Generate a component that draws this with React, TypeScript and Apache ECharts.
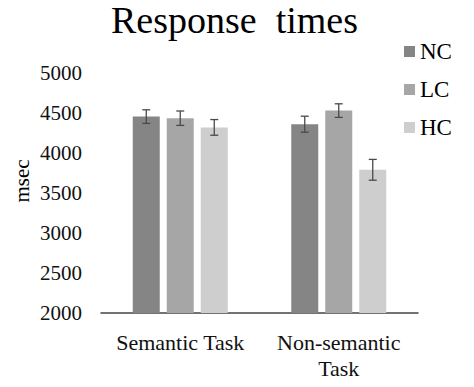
import React, { useEffect, useRef } from "react";
import * as echarts from "echarts";

const categories = ["Semantic Task", "Non-semantic\nTask"];
const seriesNames = ["NC", "LC", "HC"];
const ncValues = [4455, 4360];
const lcValues = [4435, 4530];
const hcValues = [4320, 3790];
const ncErrors = [85, 100];
const lcErrors = [90, 85];
const hcErrors = [98, 130];
const yTicks = { min: 2000, max: 5000, interval: 500 };
const yAxisName = "msec";

const colors = ["#858585", "#a6a6a6", "#cecece"];
const FONT = "Liberation Serif";

export default function App() {
  const ref = useRef<HTMLDivElement>(null);
  useEffect(() => {
    document.body.style.margin = "0";
    if (!ref.current) return;
    const chart = echarts.init(ref.current, null, { renderer: "svg" });
    const values = [ncValues, lcValues, hcValues];
    const errors = [ncErrors, lcErrors, hcErrors];
    const barWidth = 27;
    const gapPx = 7;
    const errData: number[][] = [];
    values.forEach((vals, s) => {
      vals.forEach((v, c) => {
        errData.push([c, s, v, errors[s][c]]);
      });
    });
    chart.setOption({
      animation: false,
      textStyle: { fontFamily: FONT },
      title: {
        text: "Response  times",
        left: 106,
        top: -4,
        textStyle: { fontFamily: FONT, fontSize: 38, fontWeight: "normal", color: "#000" },
      },
      legend: {
        orient: "vertical",
        left: 399,
        top: 35,
        itemWidth: 11,
        itemHeight: 11,
        itemGap: 15,
        icon: "rect",
        data: seriesNames,
        textStyle: { fontFamily: FONT, fontSize: 23, color: "#000" },
      },
      graphic: [
        {
          type: "text",
          x: 22,
          y: 181,
          rotation: Math.PI / 2,
          style: {
            text: yAxisName,
            fontFamily: FONT,
            fontSize: 21,
            fill: "#000",
            align: "center",
            verticalAlign: "middle",
          },
        },
      ],
      grid: { left: 101, right: 56, top: 73, bottom: 74 },
      xAxis: {
        type: "category",
        data: categories,
        axisLine: { lineStyle: { color: "#444", width: 1.5 } },
        axisTick: { show: false },
        axisLabel: {
          interval: 0,
          fontFamily: FONT,
          fontSize: 22,
          color: "#111",
          margin: 16,
          lineHeight: 26,
        },
      },
      yAxis: {
        type: "value",
        min: yTicks.min,
        max: yTicks.max,
        interval: yTicks.interval,
        axisLine: { show: false },
        axisTick: { show: false },
        splitLine: { show: false },
        axisLabel: {
          fontFamily: FONT,
          fontSize: 21,
          color: "#111",
          margin: 19,
          formatter: (v: number) => String(v),
        },
      },
      series: [
        ...seriesNames.map((name, i) => ({
          name,
          type: "bar",
          data: values[i],
          barWidth,
          barGap: (gapPx / barWidth) * 100 + "%",
          itemStyle: { color: colors[i] },
        })),
        {
          type: "custom",
          data: errData,
          z: 10,
          renderItem: (params: any, api: any) => {
            const c = api.value(0);
            const s = api.value(1);
            const v = api.value(2);
            const e = api.value(3);
            const top = api.coord([c, v + e]);
            const bot = api.coord([c, v - e]);
            const x = top[0] + (s - 1) * (barWidth + gapPx);
            const cap = 4;
            const style = { stroke: "#4a4a4a", lineWidth: 1.3 };
            return {
              type: "group",
              children: [
                { type: "line", shape: { x1: x, y1: top[1], x2: x, y2: bot[1] }, style },
                { type: "line", shape: { x1: x - cap, y1: top[1], x2: x + cap, y2: top[1] }, style },
                { type: "line", shape: { x1: x - cap, y1: bot[1], x2: x + cap, y2: bot[1] }, style },
              ],
            };
          },
        },
      ],
    });
    return () => chart.dispose();
  }, []);
  return <div ref={ref} style={{ width: 474, height: 387 }} />;
}
